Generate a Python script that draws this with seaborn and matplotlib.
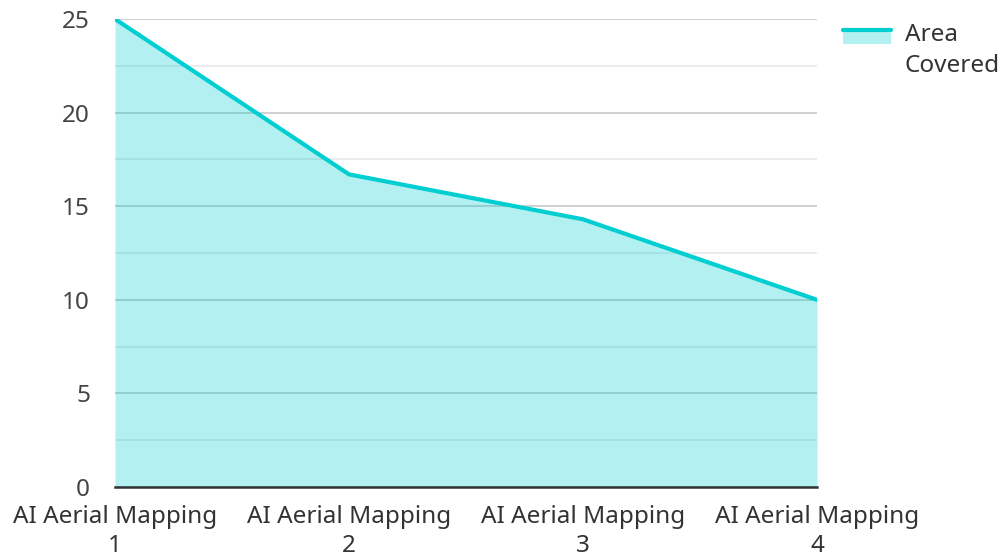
import numpy as np
import pandas as pd
import seaborn as sns
import matplotlib.pyplot as plt
from matplotlib.patches import Rectangle
from matplotlib.lines import Line2D
from matplotlib.legend_handler import HandlerBase

# data
categories = ["AI Aerial Mapping\n1", "AI Aerial Mapping\n2",
              "AI Aerial Mapping\n3", "AI Aerial Mapping\n4"]
area_covered = [25, 16.7, 14.3, 10]

df = pd.DataFrame({"pos": np.arange(len(categories)), "area": area_covered})

sns.set_style("white")
plt.rcParams['font.family'] = ['Noto Sans', 'DejaVu Sans']

fig = plt.figure(figsize=(9.99, 5.58), dpi=100)
ax = fig.add_axes([115 / 999, 1 - 487 / 558, (817 - 115) / 999, (487 - 19) / 558])

line_col = "#00CED1"
fs = 17.5


# legend key: light patch with the line along its top edge, sitting on the first text line
class AreaHandler(HandlerBase):
    def create_artists(self, legend, orig_handle, xdescent, ydescent,
                       width, height, fontsize, trans):
        y0 = -ydescent + height / 2 + 0.3 * fontsize
        h = 0.55 * fontsize
        rect = Rectangle((-xdescent, y0), width, h, facecolor=line_col,
                         alpha=0.3, lw=0, transform=trans)
        ln = Line2D([-xdescent, -xdescent + width], [y0 + h, y0 + h],
                    color=line_col, lw=3, transform=trans)
        return [rect, ln]


# grid: major every 5, minor halfway
for v in np.arange(0, 26, 5):
    ax.axhline(v, color="#c8c8c8", lw=1.2, zorder=0)
for v in np.arange(2.5, 25, 5):
    ax.axhline(v, color="#e9e9e9", lw=1.2, zorder=0)

ax.fill_between(df["pos"], df["area"], color=line_col, alpha=0.3, lw=0, zorder=1)
sns.lineplot(data=df, x="pos", y="area", color=line_col, lw=3, ax=ax, zorder=3)

ax.set_xlim(0, len(categories) - 1)
ax.set_ylim(0, 25)
ax.set_xticks(df["pos"])
ax.set_xticklabels(categories, fontsize=fs, color="#333333", linespacing=1.3)
ax.set_yticks([0, 5, 10, 15, 20, 25])
ax.set_yticklabels(["0", "5", "10", "15", "20", "25"], fontsize=fs, color="#444444")
ax.tick_params(axis="y", length=0, pad=18)
ax.tick_params(axis="x", length=0, pad=13)
ax.set_xlabel("")
ax.set_ylabel("")
for s in ["left", "right", "top"]:
    ax.spines[s].set_visible(False)
ax.spines["bottom"].set_color("#333333")
ax.spines["bottom"].set_linewidth(1.8)
ax.spines["bottom"].set_zorder(4)

leg = fig.legend([object()], ["Area\nCovered"], handler_map={object: AreaHandler()},
                 loc="upper left", bbox_to_anchor=(821 / 999, 1 - 1 / 558),
                 frameon=False, fontsize=fs, handlelength=2.0, handletextpad=0.55,
                 labelcolor="#333333")
leg.get_texts()[0].set_linespacing(1.4)

fig.savefig("out.png", dpi=100)
